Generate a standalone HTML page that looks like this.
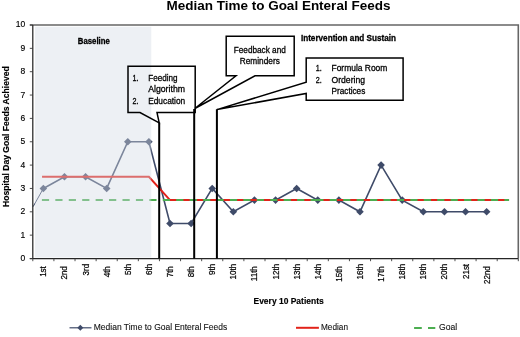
<!DOCTYPE html>
<html><head><meta charset="utf-8"><title>Median Time to Goal Enteral Feeds</title>
<style>
html,body{margin:0;padding:0;background:#fff;width:520px;height:337px;overflow:hidden}
svg{display:block}
text{font-family:'Liberation Sans', Arial, sans-serif;}
</style></head><body>
<svg width="520" height="337" viewBox="0 0 520 337">

<text x="278.4" y="9.8" text-anchor="middle" font-size="12.6" font-weight="bold" fill="#000" textLength="224" lengthAdjust="spacingAndGlyphs">Median Time to Goal Enteral Feeds</text>
<text transform="translate(9,136.6) rotate(-90)" text-anchor="middle" font-size="8.5" font-weight="bold" fill="#000" stroke="#000" stroke-width="0.15" textLength="140.6" lengthAdjust="spacingAndGlyphs">Hospital Day Goal Feeds Achieved</text>
<path d="M29.8 25 H518.3 V258.5" fill="none" stroke="#666" stroke-width="1.6"/>
<line x1="33.10" y1="206.70" x2="43.35" y2="188.45" stroke="#3f4b69" stroke-width="1"/>
<polyline points="43.35,188.45 64.46,176.77 85.57,176.77 106.68,188.45 127.79,141.75 148.90,141.75 170.01,223.47 191.12,223.47 212.22,188.45 233.33,211.80 254.44,200.12 275.55,200.12 296.66,188.45 317.77,200.12 338.88,200.12 359.98,211.80 381.09,165.10 402.20,200.12 423.31,211.80 444.42,211.80 465.53,211.80 486.64,211.80" fill="none" stroke="#3f4b69" stroke-width="1.6"/>
<path d="M43.35 184.65 L47.15 188.45 L43.35 192.25 L39.55 188.45Z" fill="#3f4b69"/>
<path d="M64.46 172.97 L68.26 176.77 L64.46 180.57 L60.66 176.77Z" fill="#3f4b69"/>
<path d="M85.57 172.97 L89.37 176.77 L85.57 180.57 L81.77 176.77Z" fill="#3f4b69"/>
<path d="M106.68 184.65 L110.48 188.45 L106.68 192.25 L102.88 188.45Z" fill="#3f4b69"/>
<path d="M127.79 137.95 L131.59 141.75 L127.79 145.55 L123.99 141.75Z" fill="#3f4b69"/>
<path d="M148.90 137.95 L152.70 141.75 L148.90 145.55 L145.10 141.75Z" fill="#3f4b69"/>
<path d="M170.01 219.67 L173.81 223.47 L170.01 227.28 L166.21 223.47Z" fill="#3f4b69"/>
<path d="M191.12 219.67 L194.92 223.47 L191.12 227.28 L187.32 223.47Z" fill="#3f4b69"/>
<path d="M212.22 184.65 L216.02 188.45 L212.22 192.25 L208.42 188.45Z" fill="#3f4b69"/>
<path d="M233.33 208.00 L237.13 211.80 L233.33 215.60 L229.53 211.80Z" fill="#3f4b69"/>
<path d="M254.44 196.32 L258.24 200.12 L254.44 203.93 L250.64 200.12Z" fill="#3f4b69"/>
<path d="M275.55 196.32 L279.35 200.12 L275.55 203.93 L271.75 200.12Z" fill="#3f4b69"/>
<path d="M296.66 184.65 L300.46 188.45 L296.66 192.25 L292.86 188.45Z" fill="#3f4b69"/>
<path d="M317.77 196.32 L321.57 200.12 L317.77 203.93 L313.97 200.12Z" fill="#3f4b69"/>
<path d="M338.88 196.32 L342.68 200.12 L338.88 203.93 L335.08 200.12Z" fill="#3f4b69"/>
<path d="M359.98 208.00 L363.78 211.80 L359.98 215.60 L356.18 211.80Z" fill="#3f4b69"/>
<path d="M381.09 161.30 L384.89 165.10 L381.09 168.90 L377.29 165.10Z" fill="#3f4b69"/>
<path d="M402.20 196.32 L406.00 200.12 L402.20 203.93 L398.40 200.12Z" fill="#3f4b69"/>
<path d="M423.31 208.00 L427.11 211.80 L423.31 215.60 L419.51 211.80Z" fill="#3f4b69"/>
<path d="M444.42 208.00 L448.22 211.80 L444.42 215.60 L440.62 211.80Z" fill="#3f4b69"/>
<path d="M465.53 208.00 L469.33 211.80 L465.53 215.60 L461.73 211.80Z" fill="#3f4b69"/>
<path d="M486.64 208.00 L490.44 211.80 L486.64 215.60 L482.84 211.80Z" fill="#3f4b69"/>
<polyline points="42.05,176.77 148.90,176.77 170.01,200.12 509.05,200.12" fill="none" stroke="#e2231a" stroke-width="2"/>
<path d="M41.9 200.12 H317.77 M316.32 200.12 H509.05" stroke="#4cae50" stroke-width="2" stroke-dasharray="7.2,6.23"/>
<rect x="35" y="26.7" width="116.3" height="230.8" fill="#d3dbe4" fill-opacity="0.41"/>
<path d="M32.8 25 V258.5 M29.8 258.5 H518.3" fill="none" stroke="#262626" stroke-width="1.25"/>
<path d="M29.8 258.50 H32.8 M29.8 235.15 H32.8 M29.8 211.80 H32.8 M29.8 188.45 H32.8 M29.8 165.10 H32.8 M29.8 141.75 H32.8 M29.8 118.40 H32.8 M29.8 95.05 H32.8 M29.8 71.70 H32.8 M29.8 48.35 H32.8 M29.8 25.00 H32.8 M32.80 258.5 V261.2 M53.91 258.5 V261.2 M75.02 258.5 V261.2 M96.13 258.5 V261.2 M117.23 258.5 V261.2 M138.34 258.5 V261.2 M159.45 258.5 V261.2 M180.56 258.5 V261.2 M201.67 258.5 V261.2 M222.78 258.5 V261.2 M243.89 258.5 V261.2 M265.00 258.5 V261.2 M286.10 258.5 V261.2 M307.21 258.5 V261.2 M328.32 258.5 V261.2 M349.43 258.5 V261.2 M370.54 258.5 V261.2 M391.65 258.5 V261.2 M412.76 258.5 V261.2 M433.87 258.5 V261.2 M454.97 258.5 V261.2 M476.08 258.5 V261.2 M497.19 258.5 V261.2 M518.30 258.5 V261.2" stroke="#3a3a3a" stroke-width="0.9" fill="none"/>
<text x="25.3" y="260.95" text-anchor="end" font-size="8.5" fill="#000" stroke="#000" stroke-width="0.15">0</text>
<text x="25.3" y="237.60" text-anchor="end" font-size="8.5" fill="#000" stroke="#000" stroke-width="0.15">1</text>
<text x="25.3" y="214.25" text-anchor="end" font-size="8.5" fill="#000" stroke="#000" stroke-width="0.15">2</text>
<text x="25.3" y="190.90" text-anchor="end" font-size="8.5" fill="#000" stroke="#000" stroke-width="0.15">3</text>
<text x="25.3" y="167.55" text-anchor="end" font-size="8.5" fill="#000" stroke="#000" stroke-width="0.15">4</text>
<text x="25.3" y="144.20" text-anchor="end" font-size="8.5" fill="#000" stroke="#000" stroke-width="0.15">5</text>
<text x="25.3" y="120.85" text-anchor="end" font-size="8.5" fill="#000" stroke="#000" stroke-width="0.15">6</text>
<text x="25.3" y="97.50" text-anchor="end" font-size="8.5" fill="#000" stroke="#000" stroke-width="0.15">7</text>
<text x="25.3" y="74.15" text-anchor="end" font-size="8.5" fill="#000" stroke="#000" stroke-width="0.15">8</text>
<text x="25.3" y="50.80" text-anchor="end" font-size="8.5" fill="#000" stroke="#000" stroke-width="0.15">9</text>
<text x="25.3" y="27.45" text-anchor="end" font-size="8.5" fill="#000" stroke="#000" stroke-width="0.15">10</text>
<text transform="translate(46.35,266.2) rotate(-90) scale(1,1.15)" text-anchor="end" font-size="8" fill="#000" stroke="#000" stroke-width="0.2">1st</text>
<text transform="translate(67.46,266.2) rotate(-90) scale(1,1.15)" text-anchor="end" font-size="8" fill="#000" stroke="#000" stroke-width="0.2">2nd</text>
<text transform="translate(88.57,263.9) rotate(-90) scale(1,1.15)" text-anchor="end" font-size="8" fill="#000" stroke="#000" stroke-width="0.2">3rd</text>
<text transform="translate(109.68,266.2) rotate(-90) scale(1,1.15)" text-anchor="end" font-size="8" fill="#000" stroke="#000" stroke-width="0.2">4th</text>
<text transform="translate(130.79,263.9) rotate(-90) scale(1,1.15)" text-anchor="end" font-size="8" fill="#000" stroke="#000" stroke-width="0.2">5th</text>
<text transform="translate(151.90,263.9) rotate(-90) scale(1,1.15)" text-anchor="end" font-size="8" fill="#000" stroke="#000" stroke-width="0.2">6th</text>
<text transform="translate(173.01,266.2) rotate(-90) scale(1,1.15)" text-anchor="end" font-size="8" fill="#000" stroke="#000" stroke-width="0.2">7th</text>
<text transform="translate(194.12,266.2) rotate(-90) scale(1,1.15)" text-anchor="end" font-size="8" fill="#000" stroke="#000" stroke-width="0.2">8th</text>
<text transform="translate(215.22,263.9) rotate(-90) scale(1,1.15)" text-anchor="end" font-size="8" fill="#000" stroke="#000" stroke-width="0.2">9th</text>
<text transform="translate(236.33,263.9) rotate(-90) scale(1,1.15)" text-anchor="end" font-size="8" fill="#000" stroke="#000" stroke-width="0.2">10th</text>
<text transform="translate(257.44,266.2) rotate(-90) scale(1,1.15)" text-anchor="end" font-size="8" fill="#000" stroke="#000" stroke-width="0.2">11th</text>
<text transform="translate(278.55,263.9) rotate(-90) scale(1,1.15)" text-anchor="end" font-size="8" fill="#000" stroke="#000" stroke-width="0.2">12th</text>
<text transform="translate(299.66,263.9) rotate(-90) scale(1,1.15)" text-anchor="end" font-size="8" fill="#000" stroke="#000" stroke-width="0.2">13th</text>
<text transform="translate(320.77,263.9) rotate(-90) scale(1,1.15)" text-anchor="end" font-size="8" fill="#000" stroke="#000" stroke-width="0.2">14th</text>
<text transform="translate(341.88,266.2) rotate(-90) scale(1,1.15)" text-anchor="end" font-size="8" fill="#000" stroke="#000" stroke-width="0.2">15th</text>
<text transform="translate(362.98,263.9) rotate(-90) scale(1,1.15)" text-anchor="end" font-size="8" fill="#000" stroke="#000" stroke-width="0.2">16th</text>
<text transform="translate(384.09,266.2) rotate(-90) scale(1,1.15)" text-anchor="end" font-size="8" fill="#000" stroke="#000" stroke-width="0.2">17th</text>
<text transform="translate(405.20,263.9) rotate(-90) scale(1,1.15)" text-anchor="end" font-size="8" fill="#000" stroke="#000" stroke-width="0.2">18th</text>
<text transform="translate(426.31,263.9) rotate(-90) scale(1,1.15)" text-anchor="end" font-size="8" fill="#000" stroke="#000" stroke-width="0.2">19th</text>
<text transform="translate(447.42,263.9) rotate(-90) scale(1,1.15)" text-anchor="end" font-size="8" fill="#000" stroke="#000" stroke-width="0.2">20th</text>
<text transform="translate(468.53,263.9) rotate(-90) scale(1,1.15)" text-anchor="end" font-size="8" fill="#000" stroke="#000" stroke-width="0.2">21st</text>
<text transform="translate(489.64,266.2) rotate(-90) scale(1,1.15)" text-anchor="end" font-size="8" fill="#000" stroke="#000" stroke-width="0.2">22nd</text>
<text x="288.6" y="303.8" text-anchor="middle" font-size="8.8" font-weight="bold" fill="#000" stroke="#000" stroke-width="0.15" textLength="70.2" lengthAdjust="spacingAndGlyphs">Every 10 Patients</text>
<path d="M159.2 122.5 V258.5 M194.2 109 V258.5 M216.9 109.2 V258.5" stroke="#000" stroke-width="2" fill="none"/>
<path d="M128 66.2 H195.2 V112.6 H157 L159.2 122.8 L140 112.6 H128 Z" fill="none" stroke="#000" stroke-width="1.5" stroke-linejoin="miter"/>
<path d="M226.2 36.2 H294.2 V75.8 H255 L194.8 108.5 L236 75.8 H226.2 Z" fill="none" stroke="#000" stroke-width="1.5" stroke-linejoin="miter"/>
<path d="M306.2 58.1 H403.1 V100.3 H306.2 V93.4 L216.9 109.6 L306.2 82.3 Z" fill="none" stroke="#000" stroke-width="1.5" stroke-linejoin="miter"/>
<text x="132.5" y="81" font-size="9.2" fill="#000" stroke="#000" stroke-width="0.3" text-anchor="start" textLength="6" lengthAdjust="spacingAndGlyphs">1.</text>
<text x="148.2" y="81" font-size="9.2" fill="#000" stroke="#000" stroke-width="0.3" text-anchor="start" textLength="29.3" lengthAdjust="spacingAndGlyphs">Feeding</text>
<text x="148.2" y="92.4" font-size="9.2" fill="#000" stroke="#000" stroke-width="0.3" text-anchor="start" textLength="36.8" lengthAdjust="spacingAndGlyphs">Algorithm</text>
<text x="132.5" y="103.8" font-size="9.2" fill="#000" stroke="#000" stroke-width="0.3" text-anchor="start" textLength="6" lengthAdjust="spacingAndGlyphs">2.</text>
<text x="148.2" y="103.8" font-size="9.2" fill="#000" stroke="#000" stroke-width="0.3" text-anchor="start" textLength="37" lengthAdjust="spacingAndGlyphs">Education</text>
<text x="259.8" y="53" font-size="9.2" fill="#000" stroke="#000" stroke-width="0.3" text-anchor="middle" textLength="52" lengthAdjust="spacingAndGlyphs">Feedback and</text>
<text x="259.8" y="64.2" font-size="9.2" fill="#000" stroke="#000" stroke-width="0.3" text-anchor="middle" textLength="40" lengthAdjust="spacingAndGlyphs">Reminders</text>
<text x="315.8" y="71" font-size="9.2" fill="#000" stroke="#000" stroke-width="0.3" text-anchor="start" textLength="6" lengthAdjust="spacingAndGlyphs">1.</text>
<text x="331.5" y="71" font-size="9.2" fill="#000" stroke="#000" stroke-width="0.3" text-anchor="start" textLength="55.8" lengthAdjust="spacingAndGlyphs">Formula Room</text>
<text x="315.8" y="82.7" font-size="9.2" fill="#000" stroke="#000" stroke-width="0.3" text-anchor="start" textLength="6" lengthAdjust="spacingAndGlyphs">2.</text>
<text x="331.5" y="82.7" font-size="9.2" fill="#000" stroke="#000" stroke-width="0.3" text-anchor="start" textLength="33.5" lengthAdjust="spacingAndGlyphs">Ordering</text>
<text x="331.5" y="94.3" font-size="9.2" fill="#000" stroke="#000" stroke-width="0.3" text-anchor="start" textLength="33.8" lengthAdjust="spacingAndGlyphs">Practices</text>
<text x="77.8" y="43.6" font-size="8.6" font-weight="bold" fill="#000" stroke="#000" stroke-width="0.3" text-anchor="start" textLength="32" lengthAdjust="spacingAndGlyphs">Baseline</text>
<text x="300.9" y="41.1" font-size="9.2" font-weight="bold" fill="#000" stroke="#000" stroke-width="0.3" text-anchor="start" textLength="95.2" lengthAdjust="spacingAndGlyphs">Intervention and Sustain</text>
<line x1="69.5" y1="327.8" x2="91.5" y2="327.8" stroke="#3f4b69" stroke-width="1.2"/>
<path d="M80.3 324.8 L83.3 327.8 L80.3 330.8 L77.3 327.8Z" fill="#3f4b69"/>
<text x="93.8" y="330" font-size="8.2" fill="#111" stroke="#111" stroke-width="0.1" textLength="133.4" lengthAdjust="spacingAndGlyphs">Median Time to Goal Enteral Feeds</text>
<line x1="296" y1="327.8" x2="318.9" y2="327.8" stroke="#e2231a" stroke-width="2"/>
<text x="321" y="330" font-size="8.2" fill="#111" stroke="#111" stroke-width="0.1" textLength="27" lengthAdjust="spacingAndGlyphs">Median</text>
<path d="M414.1 328 H421.8 M428 328 H435.3" stroke="#4cae50" stroke-width="2"/>
<text x="439" y="330" font-size="8.2" fill="#111" stroke="#111" stroke-width="0.1" textLength="18.2" lengthAdjust="spacingAndGlyphs">Goal</text>
</svg>
</body></html>
